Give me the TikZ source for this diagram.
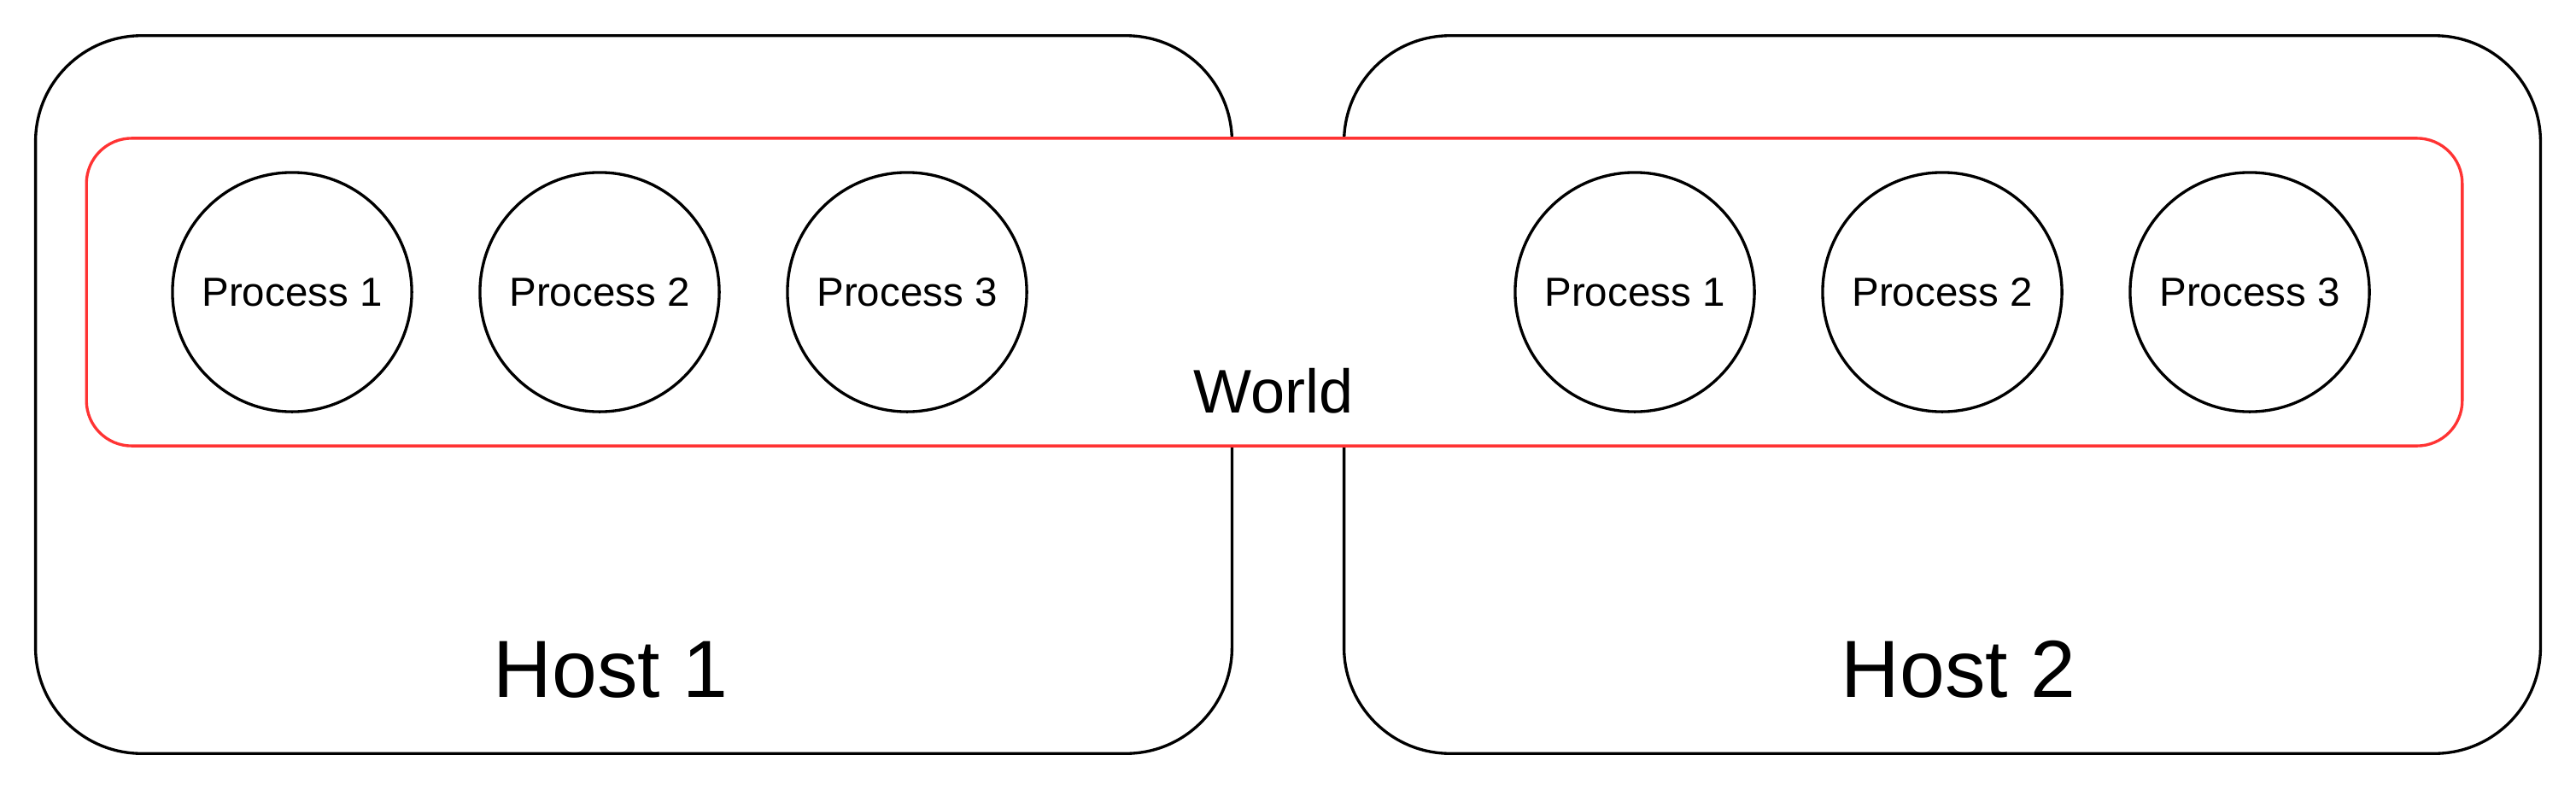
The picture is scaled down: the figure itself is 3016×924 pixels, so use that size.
\documentclass[tikz,border=0pt]{standalone}
\usepackage{fontspec}
\setmainfont{Liberation Sans}
\usepackage{tikz}
\usetikzlibrary{positioning}
\definecolor{worldred}{HTML}{FF3333}

\begin{document}
\begin{tikzpicture}[x=0.01cm, y=-0.01cm, line width=0.95pt,
            hostbox/.style={draw=black, rounded corners=1.24cm, minimum width=14cm, minimum height=8.4cm, inner sep=0pt},
            worldbox/.style={draw=worldred, fill=white, rounded corners=0.53cm, minimum width=27.8cm, minimum height=3.6cm, inner sep=0pt},
            proc/.style={circle, draw=black, fill=white, minimum size=2.8cm, inner sep=0pt, font=\fontsize{13.5pt}{16pt}\selectfont},
            hostlabel/.style={anchor=base, font=\fontsize{27pt}{32pt}\selectfont},
            worldlabel/.style={anchor=base, font=\fontsize{20.5pt}{24pt}\selectfont}]
            \useasboundingbox (0,0) rectangle (3016,924);
            % hosts
            \node[hostbox] (host1) at (742,462) {};
            \node[hostbox] (host2) at (2274,462) {};
            \node[hostlabel] (host1label) at (715,816) {Host 1};
            \node[hostlabel] (host2label) at (2293,816) {Host 2};
            % world
            \node[worldbox] (world) at (1492,342) {};
            \node[worldlabel] (worldlabel) at (1491,483) {World};
            % processes
            \foreach \i/\x in {1/342, 2/702, 3/1062}
                \node[proc] (h1p\i) at (\x,342) {Process \i};
            \foreach \i/\x in {1/1914, 2/2274, 3/2634}
                \node[proc] (h2p\i) at (\x,342) {Process \i};
        \end{tikzpicture}
\end{document}
